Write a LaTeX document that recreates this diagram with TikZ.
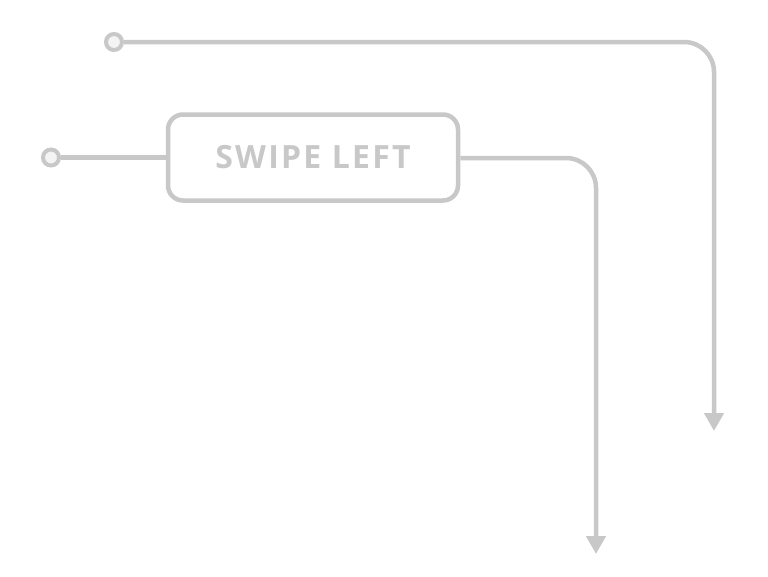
\documentclass[tikz,border=0pt]{standalone}
\usepackage{fontspec}
\setmainfont{Open Sans}[BoldFont={* Bold}]
\newfontfamily\boxfont{Open Sans Bold}[LetterSpace=7]
\usetikzlibrary{arrows.meta}
\definecolor{linegray}{HTML}{C8C8C8}
\definecolor{circfill}{HTML}{F4F4F4}
\tikzset{
  wire/.style={draw=linegray, line width=4.5pt, rounded corners=30pt, -{Triangle[width=19pt,length=18pt]}},
  plainwire/.style={draw=linegray, line width=4.5pt},
  startdot/.style={circle, draw=linegray, fill=circfill, line width=4pt, minimum size=16pt, inner sep=0pt},
  swipebox/.style={draw=linegray, line width=4.5pt, rounded corners=15pt, minimum width=290pt, minimum height=86pt, inner sep=0pt, text=linegray, font=\boxfont\fontsize{32}{36}\selectfont}
}
\begin{document}
\begin{tikzpicture}[x=1pt,y=-1pt]
\useasboundingbox (0,0) rectangle (768,576);
\fill[white] (0,0) rectangle (768,576);
\coordinate (t1) at (714,42);
\coordinate (e1) at (714,431);
\coordinate (t2) at (596,158);
\coordinate (e2) at (596,554);
\node[swipebox] (box) at (313,157.5) {SWIPE LEFT};
\node[startdot] (c1) at (114,42) {};
\node[startdot] (c2) at (51,157.5) {};
\draw[wire] (c1.east) -- (t1) -- (e1);
\draw[plainwire] (c2.east) -- (box.west);
\draw[wire] (box.east |- t2) -- (t2) -- (e2);
\end{tikzpicture}
\end{document}
